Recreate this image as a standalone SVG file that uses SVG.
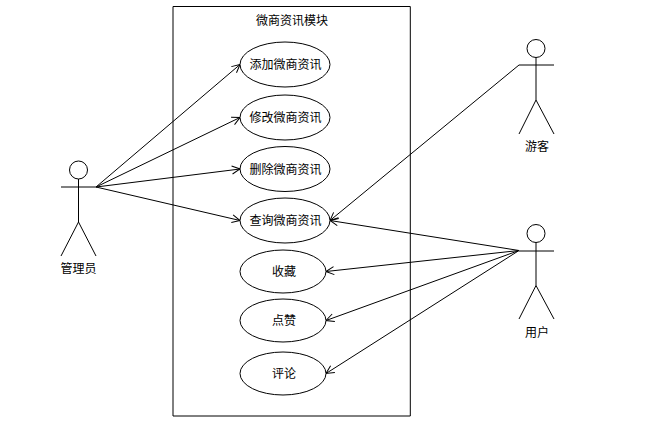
<svg xmlns="http://www.w3.org/2000/svg" width="665" height="421" viewBox="0 0 665 421">
<defs>
<marker id="open" viewBox="0 0 10 10" refX="9" refY="5" markerWidth="10" markerHeight="10" markerUnits="userSpaceOnUse" orient="auto"><path d="M1,1 L9,5 L1,9" fill="none" stroke="#000" stroke-width="1"/></marker>
</defs>
<style>
.s{fill:none;stroke:#000;stroke-width:1}
.e{fill:#fff;stroke:#000;stroke-width:1}
text{font-family:"Noto Sans CJK SC","Liberation Sans",sans-serif;font-size:12px;fill:#000;text-anchor:middle}
.a{marker-end:url(#open)}
</style>
<rect width="665" height="421" fill="#fff"/>
<g id="boundary"><path class="s" d="M173,416 V6.5 H410.3 V416 H173" /><text x="292" y="24.5">微商资讯模块</text></g>
<g id="connectors">
<path class="s a" d="M96,187 L240,64.5"/>
<path class="s a" d="M96,187 L240,117.5"/>
<path class="s a" d="M96,187 L240,169"/>
<path class="s a" d="M96,187 L240,220.5"/>
<path class="s a" d="M519,65 L330,220.5"/>
<path class="s a" d="M519,250.5 L330,220.5"/>
<path class="s a" d="M519,250.5 L326,271.5"/>
<path class="s a" d="M519,250.5 L326,320.5"/>
<path class="s a" d="M519,250.5 L326,373.5"/>
</g>
<g id="uc1"><ellipse class="e" cx="285" cy="64.5" rx="45" ry="22.5"/><text x="285.5" y="69">添加微商资讯</text></g>
<g id="uc2"><ellipse class="e" cx="285" cy="117.5" rx="45" ry="22.5"/><text x="285.5" y="122">修改微商资讯</text></g>
<g id="uc3"><ellipse class="e" cx="285" cy="169" rx="45" ry="22.5"/><text x="285.5" y="173.5">删除微商资讯</text></g>
<g id="uc4"><ellipse class="e" cx="285" cy="220.5" rx="45" ry="22.5"/><text x="285.5" y="225">查询微商资讯</text></g>
<g id="uc5"><ellipse class="e" cx="283" cy="271.5" rx="43" ry="21.5"/><text x="284" y="276">收藏</text></g>
<g id="uc6"><ellipse class="e" cx="283" cy="320.5" rx="43" ry="21.5"/><text x="284" y="325">点赞</text></g>
<g id="uc7"><ellipse class="e" cx="283" cy="373.5" rx="43" ry="21.5"/><text x="284" y="378">评论</text></g>
<g id="actor-admin"><circle class="s" cx="78.5" cy="170" r="9"/><path class="s" d="M78.5,179 V222 M61,187 H96 M61,256 L78.5,222 L96,256"/><text x="78.5" y="272.5">管理员</text></g>
<g id="actor-guest"><circle class="s" cx="536" cy="48.5" r="9"/><path class="s" d="M536,57.5 V100 M519,65 H554 M519,134 L536,100 L554,134"/><text x="537" y="150.5">游客</text></g>
<g id="actor-user"><circle class="s" cx="536" cy="233.5" r="9"/><path class="s" d="M536,242.5 V285.5 M519,251 H554 M519,319 L536,285.5 L554,319"/><text x="537" y="336.5">用户</text></g>
</svg>
